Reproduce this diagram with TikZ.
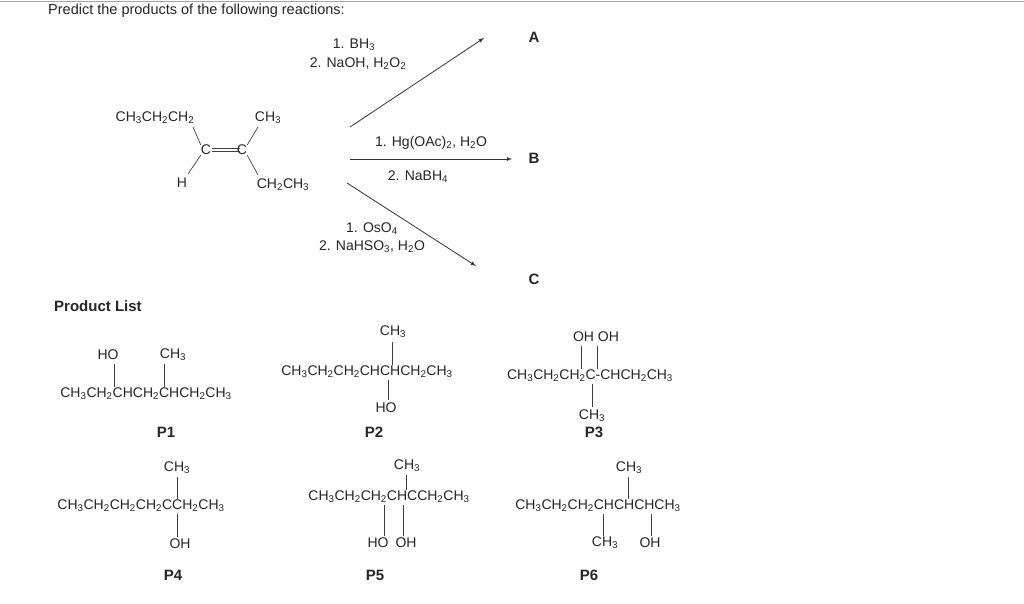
\documentclass[tikz,border=0pt]{standalone}
\usepackage{fontspec}
\setmainfont{Liberation Sans}
\newcommand{\ssb}[1]{\textsubscript{#1}}
\begin{document}
\begin{tikzpicture}[x=1pt,y=-1pt,
  t/.style={inner sep=0pt,font=\fontsize{14}{16}\selectfont,text=black!85},
  b/.style={t,font=\fontsize{15}{17}\selectfont\bfseries},
  bond/.style={draw=black!75,line width=0.7pt},
  arr/.style={draw=black!80,line width=0.8pt,-latex}]
\useasboundingbox (0,0) rectangle (1024,603);
\fill[white] (0,0) rectangle (1024,603);
\draw[black!35,line width=1pt] (0,1) -- (1024,1);
\node[t,anchor=west,font=\fontsize{14.5}{16}\selectfont] (title) at (48,11) {Predict the products of the following reactions:};
% reactant
\node[t] (r1) at (155,118) {CH\ssb{3}CH\ssb{2}CH\ssb{2}};
\node[t] (r2) at (268,118) {CH\ssb{3}};
\node[t] (c1) at (206,150) {C};
\node[t] (c2) at (242,150) {C};
\node[t] (rh) at (182,183) {H};
\node[t] (r3) at (283,185) {CH\ssb{2}CH\ssb{3}};
\draw[bond] (c1.east) ++(1,-1.5) coordinate (d1) -- ++(28,0);
\draw[bond] (c1.east) ++(1,1.5) -- ++(28,0);
\draw[bond] (193,127) -- (c1.north west);
\draw[bond] (c1.south west) -- (188,174);
\draw[bond] (258,127) -- (c2.north east);
\draw[bond] (c2.south east) -- (258,175);
% arrows
\coordinate (sa) at (350,127); \coordinate (ea) at (484,38);
\coordinate (sb) at (350,159); \coordinate (eb) at (512,159);
\coordinate (sc) at (347,183); \coordinate (ec) at (476,266);
\draw[arr] (sa) -- (ea);
\draw[arr] (sb) -- (eb);
\draw[arr] (sc) -- (ec);
\node[t] (la1) at (354,45) {1. BH\ssb{3}};
\node[t] (la2) at (358,64) {2. NaOH, H\ssb{2}O\ssb{2}};
\node[t] (lb1) at (431,143) {1. Hg(OAc)\ssb{2}, H\ssb{2}O};
\node[t] (lb2) at (418,177) {2. NaBH\ssb{4}};
\node[t] (lc1) at (372,229) {1. OsO\ssb{4}};
\node[t] (lc2) at (372,247) {2. NaHSO\ssb{3}, H\ssb{2}O};
\node[b] (A) at (534,37) {A};
\node[b] (B) at (534,158) {B};
\node[b] (C) at (534,279) {C};
\node[b,anchor=west] (pl) at (54,306) {Product List};
% P1
\node[t] (p1) at (146,394) {CH\ssb{3}CH\ssb{2}CHCH\ssb{2}CHCH\ssb{2}CH\ssb{3}};
\node[t] (p1a) at (108,355) {HO};
\node[t] (p1b) at (173,355) {CH\ssb{3}};
\draw[bond] (114,364) -- (114,387);
\draw[bond] (164,364) -- (164,387);
\node[b] (P1) at (166,432) {P1};
% P2
\node[t] (p2) at (367,372) {CH\ssb{3}CH\ssb{2}CH\ssb{2}CHCHCH\ssb{2}CH\ssb{3}};
\node[t] (p2a) at (393,332) {CH\ssb{3}};
\node[t] (p2b) at (386,408) {HO};
\draw[bond] (392,342) -- (392,365);
\draw[bond] (388,380) -- (388,400);
\node[b] (P2) at (374,432) {P2};
% P3
\node[t] (p3) at (590,376) {CH\ssb{3}CH\ssb{2}CH\ssb{2}C-CHCH\ssb{2}CH\ssb{3}};
\node[t] (p3a) at (596,337) {OH OH};
\node[t] (p3b) at (592,416) {CH\ssb{3}};
\draw[bond] (581,346) -- (581,369);
\draw[bond] (597,346) -- (597,369);
\draw[bond] (592,384) -- (592,407);
\node[b] (P3) at (594,432) {P3};
% P4
\node[t] (p4) at (141,506) {CH\ssb{3}CH\ssb{2}CH\ssb{2}CH\ssb{2}CCH\ssb{2}CH\ssb{3}};
\node[t] (p4a) at (177,468) {CH\ssb{3}};
\node[t] (p4b) at (180,544) {OH};
\draw[bond] (177,477) -- (177,499);
\draw[bond] (177,514) -- (177,537);
\node[b] (P4) at (173,575) {P4};
% P5
\node[t] (p5) at (389,497) {CH\ssb{3}CH\ssb{2}CH\ssb{2}CHCCH\ssb{2}CH\ssb{3}};
\node[t] (p5a) at (407,466) {CH\ssb{3}};
\node[t] (p5b) at (378,543) {HO};
\node[t] (p5c) at (406,543) {OH};
\draw[bond] (406,475) -- (406,490);
\draw[bond] (384,505) -- (384,536);
\draw[bond] (403,505) -- (403,536);
\node[b] (P5) at (375,575) {P5};
% P6
\node[t] (p6) at (598,506) {CH\ssb{3}CH\ssb{2}CH\ssb{2}CHCHCHCH\ssb{3}};
\node[t] (p6a) at (629,468) {CH\ssb{3}};
\node[t] (p6b) at (605,543) {CH\ssb{3}};
\node[t] (p6c) at (650,543) {OH};
\draw[bond] (628,477) -- (628,499);
\draw[bond] (603,514) -- (603,536);
\draw[bond] (651,514) -- (651,536);
\node[b] (P6) at (589,575) {P6};
\end{tikzpicture}
\end{document}
